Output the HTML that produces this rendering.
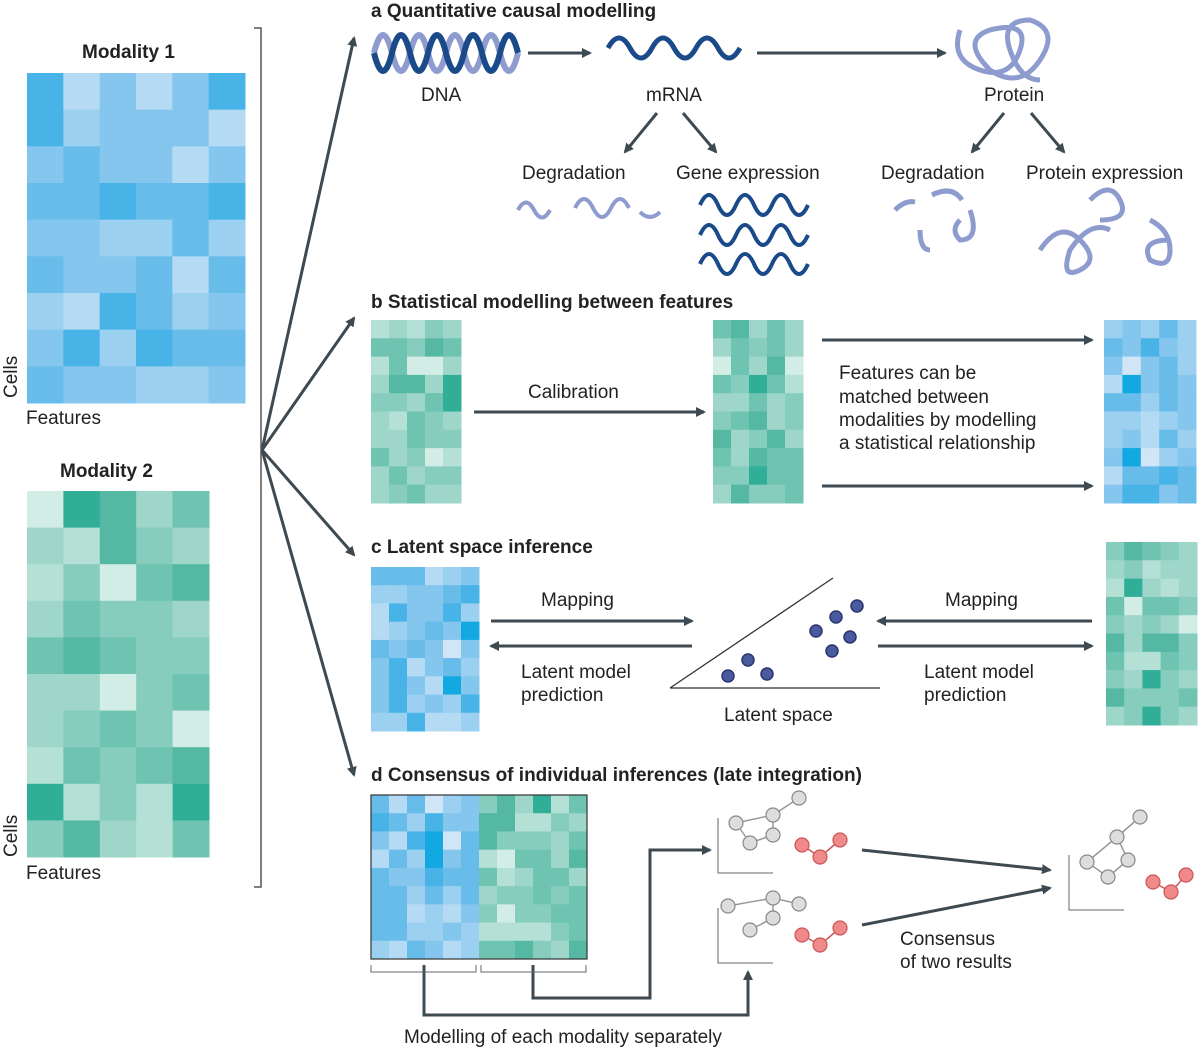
<!DOCTYPE html>
<html><head><meta charset="utf-8"><style>
body{margin:0;background:#fff;width:1200px;height:1049px;overflow:hidden}
svg text{font-family:"Liberation Sans",sans-serif;fill:#222}
.t{font-size:19px}
.h{font-size:19px;font-weight:bold}
</style></head><body>
<svg id="s" width="1200" height="1049" viewBox="0 0 1200 1049" xmlns="http://www.w3.org/2000/svg">
<defs><marker id="a" markerWidth="10" markerHeight="10" refX="8" refY="5" orient="auto" markerUnits="userSpaceOnUse"><path d="M0,0 L10,5 L0,10 z" fill="#3d4a52"/></marker></defs>
<g id="hm"></g>
<g stroke="#3d4a52" stroke-width="3" fill="none" marker-end="url(#a)">
<line x1="262" y1="450" x2="354" y2="38"/>
<line x1="262" y1="450" x2="354" y2="318"/>
<line x1="262" y1="450" x2="354" y2="555"/>
<line x1="262" y1="450" x2="354" y2="775"/>
<line x1="528" y1="53" x2="590" y2="53"/>
<line x1="757" y1="53" x2="945" y2="53"/>
<line x1="657" y1="113" x2="625" y2="152"/>
<line x1="683" y1="113" x2="716" y2="152"/>
<line x1="1004" y1="113" x2="972" y2="152"/>
<line x1="1031" y1="113" x2="1064" y2="152"/>
<line x1="474" y1="412" x2="704" y2="412"/>
<line x1="822" y1="340" x2="1092" y2="340"/>
<line x1="822" y1="486" x2="1092" y2="486"/>
<line x1="491" y1="621" x2="692" y2="621"/>
<line x1="692" y1="646" x2="491" y2="646"/>
<line x1="1092" y1="621" x2="878" y2="621"/>
<line x1="878" y1="646" x2="1092" y2="646"/>
<line x1="862" y1="850" x2="1050" y2="870"/>
<line x1="862" y1="925" x2="1050" y2="888"/>
<path d="M424 965 V1015 H748 V972"/>
<path d="M533 965 V998 H650 V850 H710"/>
</g>
<path d="M254 28 H261 V887 H254" stroke="#555" stroke-width="1.5" fill="none"/>
<g stroke="#666" stroke-width="1" fill="none">
<path d="M371 965 V972 H476 V965 M481 965 V972 H586 V965"/>
<path d="M718 818 V873 H773 M718 908 V963 H773 M1069 855 V910 H1124"/>
</g>
<path d="M670 688 L833 578 M670 688 H880" stroke="#333" stroke-width="1.3" fill="none"/>
<g fill="#4a5a9e" stroke="#2a3470" stroke-width="1.5">
<circle cx="728" cy="676" r="6"/><circle cx="748" cy="660" r="6"/><circle cx="767" cy="674" r="6"/>
<circle cx="816" cy="631" r="6"/><circle cx="836" cy="617" r="6"/><circle cx="857" cy="606" r="6"/><circle cx="850" cy="637" r="6"/><circle cx="832" cy="651" r="6"/>
</g>
<g stroke="#999" stroke-width="1.5" fill="none">
<path d="M736 823 L773 815 L799 798 M773 815 L773 835 L750 843 M736 823 L750 843"/>
<path d="M728 906 L773 898 L799 904 M773 898 L773 918 L750 930"/>
<path d="M1140 817 L1117 837 L1128 860 L1108 877 L1087 862 L1117 837"/>
</g>
<g stroke="#c55" stroke-width="1.5" fill="none"><path d="M802 845 L820 857 L840 840 M802 935 L820 945 L840 928 M1153 882 L1171 892 L1186 875"/></g>
<g fill="#ddd" stroke="#888" stroke-width="1.2">
<circle cx="736" cy="823" r="7"/><circle cx="773" cy="815" r="7"/><circle cx="799" cy="798" r="7"/><circle cx="773" cy="835" r="7"/><circle cx="750" cy="843" r="7"/>
<circle cx="728" cy="906" r="7"/><circle cx="773" cy="898" r="7"/><circle cx="799" cy="904" r="7"/><circle cx="773" cy="918" r="7"/><circle cx="750" cy="930" r="7"/>
<circle cx="1140" cy="817" r="7"/><circle cx="1117" cy="837" r="7"/><circle cx="1128" cy="860" r="7"/><circle cx="1108" cy="877" r="7"/><circle cx="1087" cy="862" r="7"/>
</g>
<g fill="#f08a8a" stroke="#c55" stroke-width="1.2">
<circle cx="802" cy="845" r="7"/><circle cx="820" cy="857" r="7"/><circle cx="840" cy="840" r="7"/>
<circle cx="802" cy="935" r="7"/><circle cx="820" cy="945" r="7"/><circle cx="840" cy="928" r="7"/>
<circle cx="1153" cy="882" r="7"/><circle cx="1171" cy="892" r="7"/><circle cx="1186" cy="875" r="7"/>
</g>
<g fill="none" stroke-width="6">
<path d="M374 53 q9 -36 18 0 t18 0 t18 0 t18 0 t18 0 t18 0 t18 0 t18 0" stroke="#8d9bcf"/>
<path d="M374 53 q9 36 18 0 t18 0 t18 0 t18 0 t18 0 t18 0 t18 0 t18 0" stroke="#1a4a8a"/>
<path d="M608 48 q11 -20 22 0 t22 0 t22 0 t22 0 t22 0 t22 0" stroke="#1a4a8a" stroke-width="5"/>
<g stroke="#1a4a8a" stroke-width="4">
<path d="M700 205 q9 -20 18 0 t18 0 t18 0 t18 0 t18 0 t18 0"/><path d="M700 235 q9 -20 18 0 t18 0 t18 0 t18 0 t18 0 t18 0"/><path d="M700 264 q9 -20 18 0 t18 0 t18 0 t18 0 t18 0 t18 0"/>
</g>
<path d="M518 210 q8 -15 16 0 t16 0 M575 208 q9 -18 18 0 t18 0 t18 0 M640 212 q10 10 20 0" stroke="#8d9bcf" stroke-width="4"/>
<g stroke="#8d9bcf" stroke-width="5">
<path d="M960 30 q-10 30 20 40 q30 10 40 -20 q10 -30 -30 -20 q-30 10 0 40 q30 20 50 -10 q20 -30 -10 -40 q-30 0 -20 30 q10 30 30 30"/>
<path d="M895 210 q10 -10 20 -8 M932 195 q20 -10 30 5 M920 230 q0 20 10 20 M960 220 q-10 10 0 20 q20 0 10 -30"/>
<path d="M1040 250 q20 -30 40 -10 q20 20 0 30 q-20 10 -10 -20 q20 -30 40 -20 M1090 200 q20 -20 30 0 q10 20 -20 20 M1150 220 q20 10 20 30 q0 20 -20 10 q-10 -20 20 -20"/>
</g>
</g>
<text x="82" y="58" class="h">Modality 1</text>
<text x="60" y="477" class="h">Modality 2</text>
<text x="26" y="424" class="t">Features</text>
<text x="26" y="879" class="t">Features</text>
<text class="t" transform="translate(17,398) rotate(-90)">Cells</text>
<text class="t" transform="translate(17,857) rotate(-90)">Cells</text>
<text x="371" y="17" class="h">a  Quantitative causal modelling</text>
<text x="421" y="101" class="t">DNA</text>
<text x="646" y="101" class="t">mRNA</text>
<text x="984" y="101" class="t">Protein</text>
<text x="522" y="179" class="t">Degradation</text>
<text x="676" y="179" class="t">Gene expression</text>
<text x="881" y="179" class="t">Degradation</text>
<text x="1026" y="179" class="t">Protein expression</text>
<text x="371" y="308" class="h">b  Statistical modelling between features</text>
<text x="528" y="398" class="t">Calibration</text>
<text x="839" y="379" class="t">Features can be</text>
<text x="839" y="403" class="t">matched between</text>
<text x="839" y="426" class="t">modalities by modelling</text>
<text x="839" y="449" class="t">a statistical relationship</text>
<text x="371" y="553" class="h">c  Latent space inference</text>
<text x="541" y="606" class="t">Mapping</text>
<text x="521" y="678" class="t">Latent model</text>
<text x="521" y="701" class="t">prediction</text>
<text x="945" y="606" class="t">Mapping</text>
<text x="924" y="678" class="t">Latent model</text>
<text x="924" y="701" class="t">prediction</text>
<text x="724" y="721" class="t">Latent space</text>
<text x="371" y="781" class="h">d  Consensus of individual inferences (late integration)</text>
<text x="900" y="945" class="t">Consensus</text>
<text x="900" y="968" class="t">of two results</text>
<text x="404" y="1043" class="t">Modelling of each modality separately</text>
<rect x="371" y="795" width="216" height="164" fill="none" stroke="#333" stroke-width="1.2"/>
</svg>
<script>
var B=["#d0e5f6","#b5dbf4","#9cd0f0","#84c6ee","#68bcea","#47b3e6","#12a8e2"];
var T=["#d2ece6","#b5e0d6","#9ed6c9","#86cdbd","#6ec3b1","#55b8a3","#30ae98"];
var seed=11;function r(){seed=(seed*9301+49297)%233280;return seed/233280;}
var g=document.getElementById('hm'),ns="http://www.w3.org/2000/svg";
function hm(x,y,w,h,c,rw,p){var cw=w/c,rh=h/rw;for(var i=0;i<rw;i++)for(var j=0;j<c;j++){var e=document.createElementNS(ns,'rect');e.setAttribute('x',x+j*cw);e.setAttribute('y',y+i*rh);e.setAttribute('width',cw+0.5);e.setAttribute('height',rh+0.5);var k=Math.floor((r()+r())/2*7);if(k>6)k=6;e.setAttribute('fill',p[k]);g.appendChild(e);}}
hm(27,73,218,330,6,9,B);
hm(27,491,182,366,5,10,T);
hm(371,320,90,183,5,10,T);
hm(713,320,90,183,5,10,T);
hm(1104,320,92,183,5,10,B);
hm(371,567,108,164,6,9,B);
hm(1106,542,91,183,5,10,T);
hm(371,795,108,164,6,9,B);
hm(479,795,108,164,6,9,T);
</script>
</body></html>
